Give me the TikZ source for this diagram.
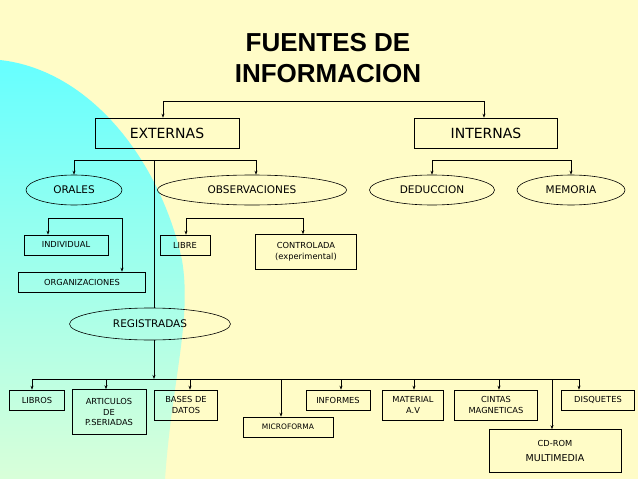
\documentclass[tikz,border=0pt]{standalone}
\usepackage{fontspec}
\setmainfont{DejaVu Sans}
\newfontfamily\titlefont{Liberation Sans}
\usetikzlibrary{shapes.geometric,arrows.meta}
\begin{document}
\begin{tikzpicture}[x=1pt,y=-1pt,
  bx/.style={draw,semithick,inner sep=0pt,align=center,font=\fontsize{8.3}{10.5}\selectfont},
  el/.style={draw,ellipse,semithick,inner sep=0pt,font=\fontsize{10.5}{13}\selectfont},
  ar/.style={-{Stealth[length=4pt,width=3pt]},semithick},
  ln/.style={semithick}]
\fill[yellow!22] (0,0) rectangle (638,479);
\shade[top color=cyan!60,bottom color=green!15] (0,60) .. controls (90,70) and (160,160) .. (182,260) .. controls (192,320) and (172,380) .. (165,479) -- (0,479) -- cycle;
\useasboundingbox (0,0) rectangle (638,479);
\node[font=\titlefont\bfseries\fontsize{26}{31}\selectfont,align=center] (title) at (328,58) {FUENTES DE\\INFORMACION};
\node[bx,minimum width=144,minimum height=30,font=\fontsize{14}{16}\selectfont] (ext) at (167,133) {EXTERNAS};
\node[bx,minimum width=143,minimum height=30,font=\fontsize{14}{16}\selectfont] (int) at (486,133) {INTERNAS};
\node[el,minimum width=96,minimum height=30] (ora) at (74,190) {ORALES};
\node[el,minimum width=189,minimum height=30] (obs) at (252,190) {OBSERVACIONES};
\node[el,minimum width=125,minimum height=30] (ded) at (432,190) {DEDUCCION};
\node[el,minimum width=108,minimum height=30] (mem) at (571,190) {MEMORIA};
\node[bx,minimum width=84,minimum height=20] (ind) at (66,245) {INDIVIDUAL};
\node[bx,minimum width=127,minimum height=20] (org) at (82,282) {ORGANIZACIONES};
\node[bx,minimum width=50,minimum height=20] (lib) at (185,245) {LIBRE};
\node[bx,minimum width=101,minimum height=35] (con) at (306,252) {CONTROLADA\\(experimental)};
\node[el,minimum width=161,minimum height=32] (reg) at (150,324) {REGISTRADAS};
\node[bx,minimum width=55,minimum height=20] (libr) at (37,400) {LIBROS};
\node[bx,minimum width=74,minimum height=45] (art) at (109,412) {ARTICULOS\\DE\\P.SERIADAS};
\node[bx,minimum width=63,minimum height=30] (bas) at (186,405) {BASES DE\\DATOS};
\node[bx,minimum width=90,minimum height=20,font=\fontsize{7.5}{10}\selectfont] (mic) at (288,427) {MICROFORMA};
\node[bx,minimum width=64,minimum height=20] (inf) at (338,400) {INFORMES};
\node[bx,minimum width=61,minimum height=30] (mat) at (413,405) {MATERIAL\\A.V};
\node[bx,minimum width=83,minimum height=30] (cin) at (496,405) {CINTAS\\MAGNETICAS};
\node[bx,minimum width=73,minimum height=20] (dis) at (598,400) {DISQUETES};
\node[bx,minimum width=132,minimum height=43] (cd) at (555,451) {CD-ROM\\[4pt]{\fontsize{9.5}{12}\selectfont MULTIMEDIA}};
\coordinate (t1) at (163,101); \coordinate (t2) at (484,101);
\draw[ln] (t1) -- (t2);
\draw[ar] (t1) -- (t1 |- ext.north);
\draw[ar] (t2) -- (t2 |- int.north);
\coordinate (e1) at (74,160); \coordinate (e2) at (256,160); \coordinate (e0) at (154,160);
\draw[ln] (e1) -- (e2);
\draw[ar] (e1) -- (ora.north);
\draw[ar] (e2) -- (e2 |- obs.north);
\draw[ln] (e0) -- (e0 |- reg.north);
\coordinate (i1) at (432,160); \coordinate (i2) at (571,160);
\draw[ln] (i1) -- (i2);
\draw[ar] (i1) -- (ded.north);
\draw[ar] (i2) -- (mem.north);
\coordinate (o1) at (48,218); \coordinate (o2) at (122,218);
\draw[ln] (o1) -- (o2);
\draw[ar] (o1) -- (o1 |- ind.north);
\draw[ar] (o2) -- (o2 |- org.north);
\coordinate (b1) at (186,218); \coordinate (b2) at (303,218);
\draw[ln] (b1) -- (b2);
\draw[ar] (b1) -- (b1 |- lib.north);
\draw[ar] (b2) -- (b2 |- con.north);
\coordinate (r0) at (154,379);
\draw[ar] (reg.south -| r0) -- (r0);
\coordinate (s1) at (32,379); \coordinate (s9) at (579,379);
\draw[ln] (s1) -- (s9);
\draw[ar] (s1) -- (s1 |- libr.north);
\foreach \x/\n in {106/art,190/bas,281/mic,341/inf,414/mat,499/cin,552/cd,579/dis}
  \draw[ar] (\x,379) -- (\x,379 |- \n.north);
\end{tikzpicture}
\end{document}
